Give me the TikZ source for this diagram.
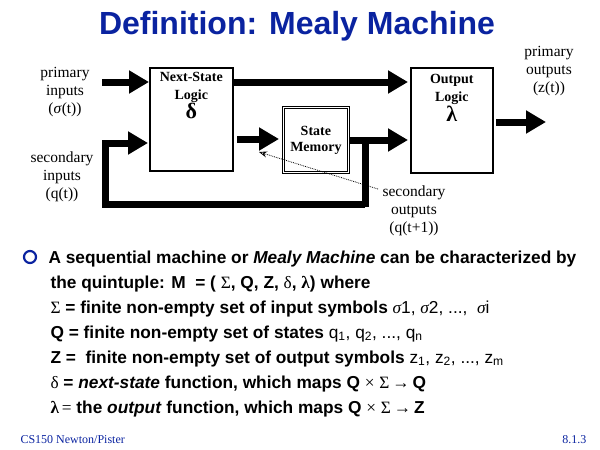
\documentclass[tikz,border=0pt]{standalone}
\usepackage{fontspec}
\setmainfont{Liberation Serif}
\setsansfont{Liberation Sans}
\newfontfamily\grk{Liberation Serif}
\usetikzlibrary{arrows.meta,calc}
\definecolor{ttl}{HTML}{0A23A0}
\begin{document}
\begin{tikzpicture}[x=1pt,y=-1pt,
  box/.style={draw,line width=1.6pt,inner sep=0pt,align=center,font=\fontsize{14}{16}\selectfont\bfseries},
  bus/.style={line width=7pt},
  busar/.style={line width=7pt,-{Triangle[length=20pt,width=22pt]}},
  lbl/.style={align=center,font=\fontsize{15.5}{18}\selectfont},
  btxt/.style={font=\fontsize{14}{18}\selectfont\bfseries,align=center,anchor=north,inner sep=0pt},
  body/.style={anchor=base west,font=\fontsize{17.3}{20}\sffamily\bfseries}]
\useasboundingbox (0,0) rectangle (600,450);
\node[font=\fontsize{32}{36}\sffamily\bfseries,text=ttl] (title) at (297,26) {Definition: Mealy Machine};
% boxes
\node[box,minimum width=83pt,minimum height=103pt,anchor=north west] (ns) at (149,67) {};
\node[btxt] (nst) at ([yshift=-5pt]ns.north) {Next-State\\Logic\\{\fontsize{22}{22}\selectfont δ}};
\node[box,minimum width=82pt,minimum height=105pt,anchor=north west] (ol) at (410,67) {};
\node[btxt] (olt) at ([yshift=-7pt]ol.north) {Output\\Logic\\{\fontsize{22}{22}\selectfont λ}};
\node[box,double,double distance=1.5pt,line width=0.8pt,minimum width=65pt,minimum height=65pt,anchor=north west] (sm) at (283,107) {State\\Memory};
% coordinates
\coordinate (pin) at (102,82);
\coordinate (top1) at (232,82);
\coordinate (top2) at (408,82);
\coordinate (m1) at (237,139);
\coordinate (m2) at (279,139);
\coordinate (o1) at (349,140);
\coordinate (o2) at (408,140);
\coordinate (j1) at (365,140);
\coordinate (j2) at (365,207);
\coordinate (l1) at (105,204);
\coordinate (l2) at (105,143);
\coordinate (l3) at (148,143);
\coordinate (z1) at (496,122);
\coordinate (z2) at (546,122);
\coordinate (dots) at (378,189);
\coordinate (dtip) at (259,152);
\draw[busar] (pin) -- (ns.west |- pin);
\draw[busar] (top1) -- (top2);
\draw[busar] (m1) -- (m2);
\draw[busar] (o1) -- (o2);
\draw[bus] (j1) -- (j2);
\draw[bus] (365,204) -- (l1) -- (l2) -- (111,143);
\draw[busar] (108,143) -- (l3);
\draw[busar] (z1) -- (z2);
\draw[densely dotted,line width=0.8pt,-{Stealth[open,length=8pt,width=6pt]}] (dots) -- (dtip);
% labels
\node[lbl] (pi) at (65,92) {primary\\inputs\\(\textit{σ}(t))};
\node[lbl] (si) at (62,177) {secondary\\inputs\\(q(t))};
\node[lbl] (so) at (414,211) {secondary\\outputs\\(q(t+1))};
\node[lbl] (po) at (549,71) {primary\\outputs\\(z(t))};
% body
\node[draw=ttl,circle,line width=2.2pt,minimum size=12pt,inner sep=0pt] (bul) at (30,257) {};
\node[body] (b1) at (45,263) {A sequential machine or \textit{Mealy Machine} can be characterized by};
\node[body] (b2) at (47,288) {the quintuple: M \ = ( {\grk\mdseries Σ}, Q, Z, {\grk\mdseries δ}, {\grk λ}) where};
\node[body] (b3) at (47,313) {{\grk\mdseries Σ} = finite non-empty set of input symbols {\mdseries{\grk\itshape σ}1, {\grk\itshape σ}2, ..., \ {\grk\itshape σ}i}};
\node[body] (b4) at (47,338) {Q = finite non-empty set of states {\mdseries q\textsubscript{1}, q\textsubscript{2}, ..., q\textsubscript{n}}};
\node[body] (b5) at (47,363) {Z = \ finite non-empty set of output symbols {\mdseries z\textsubscript{1}, z\textsubscript{2}, ..., z\textsubscript{m}}};
\node[body] (b6) at (47,388) {{\grk\mdseries δ} = \textit{next-state} function, which maps Q {\grk\mdseries ×} {\grk\mdseries Σ\,→}\,Q};
\node[body] (b7) at (47,413) {{\grk λ}{\grk\mdseries\,=} the \textit{output} function, which maps Q {\grk\mdseries ×} {\grk\mdseries Σ\,→}\,Z};
\node[anchor=base west,text=ttl,font=\fontsize{12}{12}\selectfont] (ft1) at (17,443) {CS150 Newton/Pister};
\node[anchor=base east,text=ttl,font=\fontsize{12}{12}\selectfont] (ft2) at (590,443) {8.1.3};
\end{tikzpicture}
\end{document}
